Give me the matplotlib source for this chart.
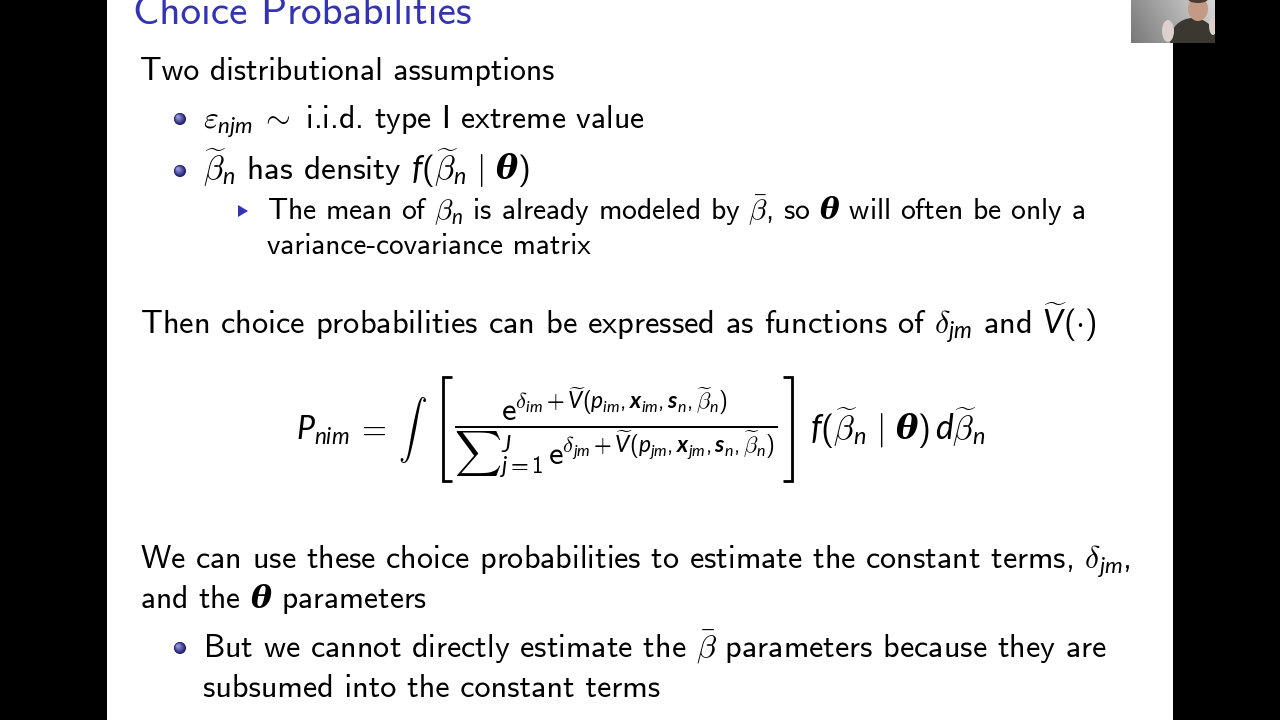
import matplotlib
matplotlib.use("Agg")
import matplotlib.pyplot as plt
import numpy as np
from matplotlib.patches import Rectangle, Circle, Polygon, Ellipse
from matplotlib.lines import Line2D

plt.rcParams['mathtext.fontset'] = 'custom'
plt.rcParams['mathtext.rm'] = 'cmss10'
plt.rcParams['mathtext.sf'] = 'cmss10'
plt.rcParams['mathtext.it'] = 'Lato:italic'
plt.rcParams['mathtext.bf'] = 'Lato:bold:italic'
plt.rcParams['mathtext.bfit'] = 'DejaVu Serif:bold:italic'
plt.rcParams['mathtext.fallback'] = 'cm'
plt.rcParams['axes.unicode_minus'] = False

# ---------------- content ----------------
title_text = "Choice Probabilities"
B = r"\mathrm{\beta}"
TB = r"\widetilde{\mathrm{\beta}}"
TH = r"\mathbfit{\theta}"
MID = r"\,\mid\,"

body_texts = [
    "Two distributional assumptions",
    r"$\mathrm{\varepsilon}_{njm}\;\sim$ i.i.d. type I extreme value",
    r"$" + TB + r"_n$ has density $f(" + TB + r"_n" + MID + TH + r")$",
    r"The mean of $" + B + r"_n$ is already modeled by $\bar{\mathrm{\beta}}$, so $" + TH + r"$ will often be only a",
    "variance-covariance matrix",
    r"Then choice probabilities can be expressed as functions of $\mathrm{\delta}_{jm}$ and $\widetilde{V}(\cdot)$",
    r"We can use these choice probabilities to estimate the constant terms, $\mathrm{\delta}_{jm}$,",
    r"and the $" + TH + r"$ parameters",
    r"But we cannot directly estimate the $\bar{\mathrm{\beta}}$ parameters because they are",
    "subsumed into the constant terms",
]
# layout: left x, baseline y, right x (pixels)
body_left = [140, 203, 203, 267, 267, 140, 140, 140, 203, 203]
body_base = [80, 128, 180, 220, 254, 333, 568, 608, 657, 697]
body_right = [554, 645, 530, 1085, 591, 1097, 1131, 427, 1107, 660]

ball_bullets = [(180, 119), (180, 171), (180, 648)]
tri_bullets = [(243, 211)]

formula_lhs = r"$P_{nim}\;=$"
formula_int = r"$\int$"
num = (r"\mathrm{e}^{\mathrm{\delta}_{im}+\widetilde{V}(p_{im},\mathbf{x}_{im},\mathbf{s}_{n},"
       + TB + r"_{n})}")
den = (r"{\sum}_{j=1}^{J}\,\mathrm{e}^{\mathrm{\delta}_{jm}+\widetilde{V}(p_{jm},\mathbf{x}_{jm},\mathbf{s}_{n},"
       + TB + r"_{n})}")
formula_frac = r"$\dfrac{" + num + "}{" + den + r"}$"
formula_rhs = r"$f(" + TB + r"_n" + MID + TH + r")\,d" + TB + r"_n$"

BLUE = "#3333b3"
W, H = 1280, 720


def new_canvas():
    f = plt.figure(figsize=(12.8, 7.2), dpi=100)
    a = f.add_axes([0, 0, 1, 1])
    a.set_xlim(0, W)
    a.set_ylim(H, 0)
    a.axis("off")
    return f, a


def ink_box(s, size, x=400, y=400):
    """Render text alone and return its ink bbox (l, t, r, b) in pixels."""
    f, a = new_canvas()
    a.text(x, y, s, fontsize=size, family="cmss10", color="black", va="baseline", ha="left")
    f.canvas.draw()
    arr = np.asarray(f.canvas.buffer_rgba())[:, :, :3].astype(int)
    plt.close(f)
    mask = arr.sum(axis=2) < 600
    ys, xs = np.nonzero(mask)
    return xs.min(), ys.min(), xs.max() + 1, ys.max() + 1


def fit_ink(s, left, top, height=None, width=None, size0=20.0):
    ax0, ay0 = 400, 400
    l, t, r, b = ink_box(s, size0, ax0, ay0)
    if height is not None:
        k = height / (b - t)
    else:
        k = width / (r - l)
    size = size0 * k
    x = left - k * (l - ax0)
    y = top - k * (t - ay0)
    return x, y, size


# ---------------- figure ----------------
fig, ax = new_canvas()
fig.patch.set_facecolor("black")
ax.add_patch(Rectangle((107, 0), 1066, 720, facecolor="white", edgecolor="none", zorder=0))

fig.canvas.draw()
renderer = fig.canvas.get_renderer()


def put(s, x, y, size, right=None, color="black", family="cmss10"):
    t = ax.text(x, y, s, fontsize=size, family=family, color=color,
                va="baseline", ha="left", zorder=3)
    if right is not None:
        for _ in range(3):
            w = t.get_window_extent(renderer).width
            t.set_fontsize(t.get_fontsize() * (right - x) / w)
    return t


BASE = 21.6
put(title_text, 133, 24, 28, right=471, color=BLUE)
for s, x, y, r in zip(body_texts, body_left, body_base, body_right):
    put(s, x, y, BASE, right=r)

# bullets
for (cx, cy) in ball_bullets:
    R = 6.0
    n = 12
    dark = np.array([0.10, 0.10, 0.40])
    light = np.array([0.62, 0.62, 0.92])
    for k in range(n):
        f = k / n
        r = R * (1 - f * 0.85)
        off = (R - r) * 0.45
        col = dark * (1 - f) + light * f
        ax.add_patch(Circle((cx - off, cy - off), r, facecolor=col, edgecolor="none", zorder=2))
for (cx, cy) in tri_bullets:
    ax.add_patch(Polygon([(cx - 5, cy - 6), (cx - 5, cy + 6), (cx + 5, cy)],
                         closed=True, facecolor=BLUE, edgecolor="none", zorder=2))

# formula
put(formula_lhs, 296, 440, BASE, right=387)
ix, iy, isz = fit_ink(formula_int, 400, 398, height=63)
ax.text(ix, iy, formula_int, fontsize=isz, family="cmss10", color="black",
        va="baseline", ha="left", zorder=3)

fx, fy, fsz = fit_ink(formula_frac, 455, 386, width=323)
ax.text(fx, fy, formula_frac, fontsize=fsz, family="cmss10", color="black",
        va="baseline", ha="left", zorder=3)
# big square brackets around the fraction
for xs_, ys_ in [([452, 443, 443, 452], [377, 377, 481, 481]),
                 ([783, 792, 792, 783], [377, 377, 481, 481])]:
    ax.add_line(Line2D(xs_, ys_, color="black", lw=2.0, solid_joinstyle="miter",
                       solid_capstyle="butt", zorder=3))
put(formula_rhs, 810, 440, BASE, right=985)

# webcam inset
cam = Rectangle((1131, 0), 84, 43, transform=ax.transData, facecolor="none", edgecolor="none")
ax.add_patch(cam)
h, w = 43, 84
yy, xx = np.mgrid[0:h, 0:w]
g = 0.55 + 0.30 * (xx / w) - 0.08 * (yy / h)
img = np.dstack([g, g, g])
ax.imshow(img, extent=(1131, 1215, 43, 0), zorder=4, aspect="auto")
shapes = [
    Ellipse((1193, 40), 46, 44, facecolor="#3a3830", edgecolor="none"),
    Ellipse((1198, 9), 20, 24, facecolor="#c39a86", edgecolor="none"),
    Ellipse((1198, -1), 20, 8, facecolor="#4a3a30", edgecolor="none"),
    Ellipse((1168, 31), 12, 22, facecolor="#ddd0cc", edgecolor="none"),
    Ellipse((1213, 26), 8, 18, facecolor="#ddd0cc", edgecolor="none"),
]
for sp in shapes:
    sp.set_zorder(5)
    ax.add_patch(sp)
    sp.set_clip_path(cam)
ax.set_xlim(0, 1280)
ax.set_ylim(720, 0)

fig.savefig("out.png", dpi=100, facecolor="black")
